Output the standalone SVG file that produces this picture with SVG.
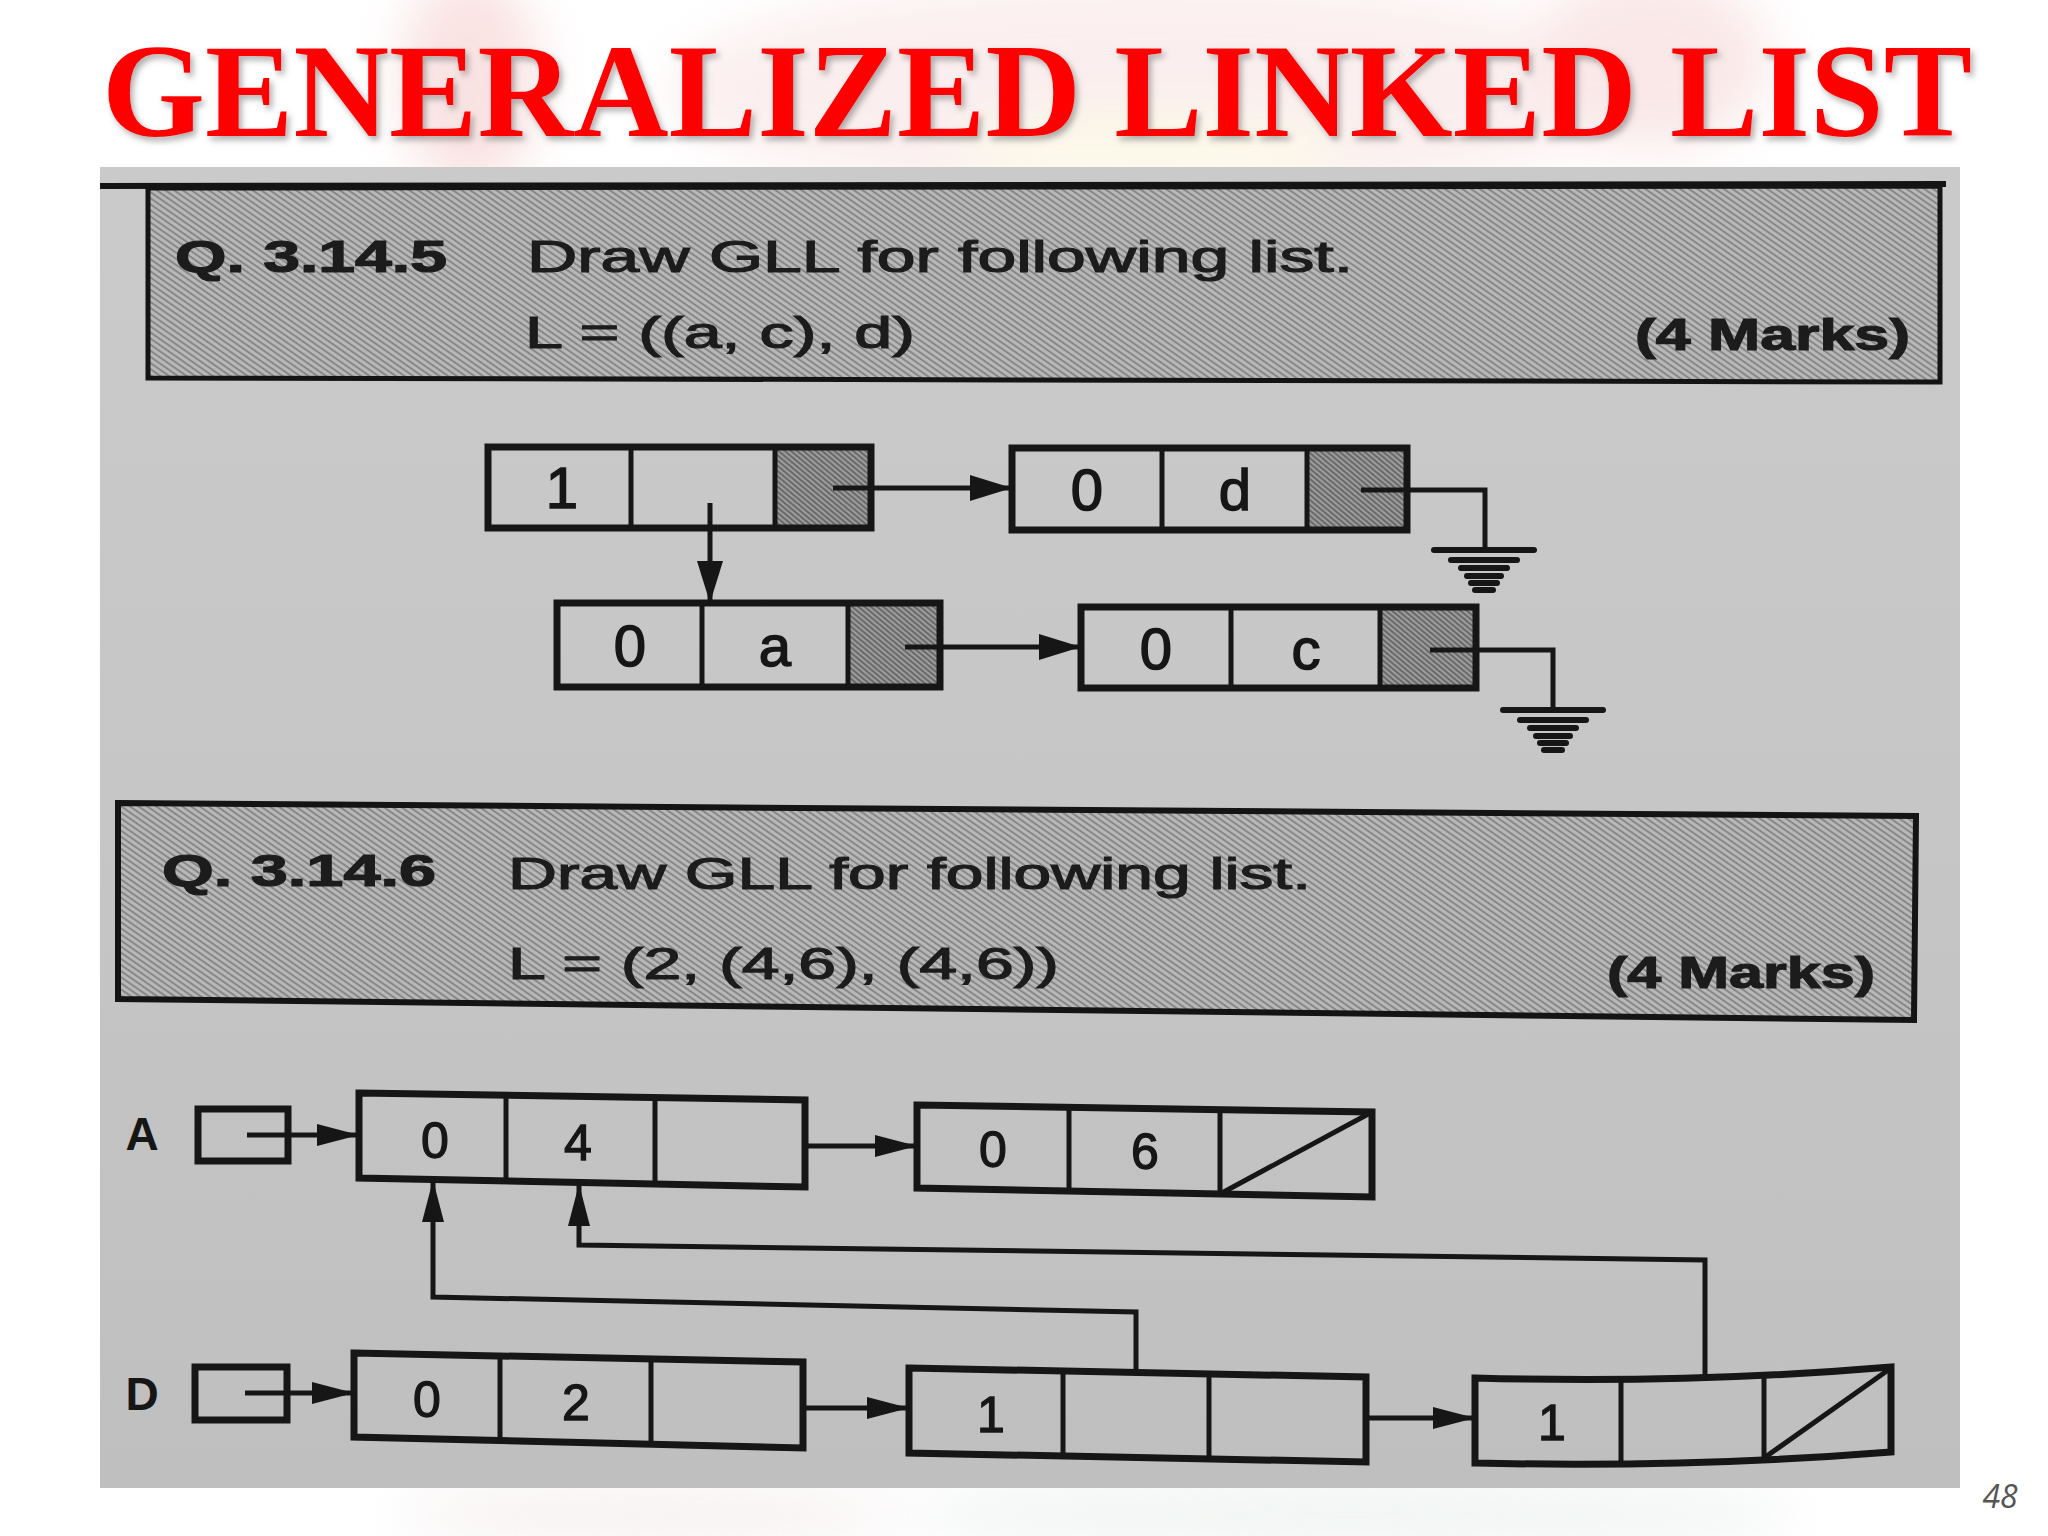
<svg xmlns="http://www.w3.org/2000/svg" width="2048" height="1536" viewBox="0 0 2048 1536">
<defs>
<style>
.q{font-family:"Liberation Sans",Arial,sans-serif;font-size:44px;fill:#1c1c1c;stroke:#1c1c1c;stroke-width:1.2}
.qb{font-weight:bold}
.cell{fill:none;stroke:#161616;stroke-width:7;stroke-linejoin:miter}
.div{stroke:#161616;stroke-width:5}
.ln{fill:none;stroke:#161616;stroke-width:5}
.gnd line{stroke:#161616;stroke-width:6;stroke-linecap:round}
.v{font-family:"Liberation Sans",Arial,sans-serif;font-size:58px;fill:#161616;stroke:#161616;stroke-width:1.5;text-anchor:middle}
.v2{font-family:"Liberation Sans",Arial,sans-serif;font-size:50px;fill:#161616;stroke:#161616;stroke-width:1.3;text-anchor:middle}
.lab{font-family:"Liberation Sans",Arial,sans-serif;font-size:46px;font-weight:bold;fill:#161616;text-anchor:middle}
</style>
<pattern id="hatch" width="5" height="5" patternUnits="userSpaceOnUse" patternTransform="rotate(35)">
<rect width="5" height="5" fill="#b8b8b8"/><rect width="5" height="2" fill="#888888"/>
</pattern>
<pattern id="shade" width="4" height="4" patternUnits="userSpaceOnUse" patternTransform="rotate(40)">
<rect width="4" height="4" fill="#9c9c9c"/><rect width="4" height="2" fill="#6a6a6a"/>
</pattern>
<linearGradient id="bg" x1="0" y1="0" x2="0" y2="1">
<stop offset="0" stop-color="#cacaca"/><stop offset="0.5" stop-color="#c6c6c6"/><stop offset="1" stop-color="#bfbfbf"/>
</linearGradient>
<marker id="ah" viewBox="0 0 42 26" refX="42" refY="13" markerWidth="42" markerHeight="26" markerUnits="userSpaceOnUse" orient="auto">
<path d="M0,0 L42,13 L0,26 Z" fill="#161616"/>
</marker>
<marker id="as" viewBox="0 0 42 22" refX="42" refY="11" markerWidth="42" markerHeight="22" markerUnits="userSpaceOnUse" orient="auto">
<path d="M0,0 L42,11 L0,22 Z" fill="#161616"/>
</marker>
<filter id="sh" x="-10%" y="-50%" width="120%" height="200%">
<feDropShadow dx="3" dy="4" stdDeviation="3" flood-color="#777" flood-opacity="0.6"/>
</filter>
<filter id="blur" x="-50%" y="-50%" width="200%" height="200%"><feGaussianBlur stdDeviation="25"/></filter>
</defs>

<rect width="2048" height="1536" fill="#ffffff"/>
<g id="watermark" filter="url(#blur)" opacity="0.4">
<ellipse cx="470" cy="80" rx="70" ry="110" fill="#f2b8b8"/>
<ellipse cx="1150" cy="90" rx="480" ry="110" fill="#f6d6d6"/>
<ellipse cx="1150" cy="150" rx="200" ry="40" fill="#f7efc8"/>
<ellipse cx="1650" cy="60" rx="120" ry="90" fill="#f3c6c6"/>
<ellipse cx="650" cy="1515" rx="250" ry="40" fill="#efe3e3"/>
<ellipse cx="1350" cy="1515" rx="450" ry="40" fill="#dfe8e2"/>
</g>

<text x="102" y="136" font-family="'Liberation Serif','Times New Roman',serif" font-weight="bold" font-size="134" fill="#ff0000" textLength="1870" lengthAdjust="spacingAndGlyphs" filter="url(#sh)">GENERALIZED LINKED LIST</text>

<rect id="photo" x="100" y="167" width="1860" height="1321" fill="url(#bg)"/>

<g id="q1">
<line x1="100" y1="186" x2="1946" y2="184" stroke="#141414" stroke-width="6"/>
<polygon points="148,188 1940,186 1940,382 148,378" fill="url(#hatch)" stroke="#141414" stroke-width="5"/>
<text class="q qb" x="175" y="272" textLength="272" lengthAdjust="spacingAndGlyphs">Q. 3.14.5</text>
<text class="q" x="527" y="272" textLength="826" lengthAdjust="spacingAndGlyphs">Draw GLL for following list.</text>
<text class="q" x="525" y="348" textLength="390" lengthAdjust="spacingAndGlyphs">L = ((a, c), d)</text>
<text class="q qb" x="1635" y="350" textLength="275" lengthAdjust="spacingAndGlyphs">(4 Marks)</text>
</g>

<g id="n1">
<rect x="775" y="447" width="96" height="81" fill="url(#shade)"/>
<rect class="cell" x="488" y="447" width="383" height="81"/>
<line class="div" x1="631" y1="447" x2="631" y2="528"/>
<line class="div" x1="775" y1="447" x2="775" y2="528"/>
<text class="v" x="562" y="508">1</text>
</g>
<g id="n2">
<rect x="1307" y="448" width="100" height="82" fill="url(#shade)"/>
<rect class="cell" x="1012" y="448" width="395" height="82"/>
<line class="div" x1="1162" y1="448" x2="1162" y2="530"/>
<line class="div" x1="1307" y1="448" x2="1307" y2="530"/>
<text class="v" x="1087" y="510">0</text>
<text class="v" x="1235" y="510">d</text>
</g>
<g id="n3">
<rect x="848" y="603" width="92" height="84" fill="url(#shade)"/>
<rect class="cell" x="557" y="603" width="383" height="84"/>
<line class="div" x1="702" y1="603" x2="702" y2="687"/>
<line class="div" x1="848" y1="603" x2="848" y2="687"/>
<text class="v" x="630" y="666">0</text>
<text class="v" x="775" y="666">a</text>
</g>
<g id="n4">
<rect x="1380" y="607" width="96" height="81" fill="url(#shade)"/>
<rect class="cell" x="1081" y="607" width="395" height="81"/>
<line class="div" x1="1231" y1="607" x2="1231" y2="688"/>
<line class="div" x1="1380" y1="607" x2="1380" y2="688"/>
<text class="v" x="1156" y="669">0</text>
<text class="v" x="1306" y="669">c</text>
</g>
<g id="gnd1" class="gnd">
<line x1="1434" y1="550" x2="1534" y2="550"/>
<line x1="1451" y1="560" x2="1517" y2="560"/>
<line x1="1461" y1="568" x2="1507" y2="568"/>
<line x1="1467" y1="576" x2="1501" y2="576"/>
<line x1="1471" y1="583" x2="1497" y2="583"/>
<line x1="1475" y1="590" x2="1493" y2="590"/>
</g>
<g id="gnd2" class="gnd">
<line x1="1503" y1="710" x2="1603" y2="710"/>
<line x1="1520" y1="720" x2="1586" y2="720"/>
<line x1="1530" y1="728" x2="1576" y2="728"/>
<line x1="1536" y1="736" x2="1570" y2="736"/>
<line x1="1540" y1="743" x2="1566" y2="743"/>
<line x1="1544" y1="750" x2="1562" y2="750"/>
</g>

<g id="q2">
<polygon points="118,803 1916,816 1914,1020 118,999" fill="url(#hatch)" stroke="#141414" stroke-width="6"/>
<text class="q qb" x="162" y="886" textLength="274" lengthAdjust="spacingAndGlyphs">Q. 3.14.6</text>
<text class="q" x="508" y="889" textLength="803" lengthAdjust="spacingAndGlyphs">Draw GLL for following list.</text>
<text class="q" x="508" y="979" textLength="551" lengthAdjust="spacingAndGlyphs">L = (2, (4,6), (4,6))</text>
<text class="q qb" x="1607" y="988" textLength="268" lengthAdjust="spacingAndGlyphs">(4 Marks)</text>
</g>

<g id="ptrA">
<text class="lab" x="142" y="1150">A</text>
<rect class="cell" x="198" y="1109" width="90" height="52" stroke-width="6"/>
</g>
<g id="a1">
<polygon class="cell" points="359,1093 805,1100 805,1187 359,1178"/>
<line class="div" x1="506" y1="1095" x2="506" y2="1181"/>
<line class="div" x1="655" y1="1098" x2="655" y2="1184"/>
<text class="v2" x="435" y="1158">0</text>
<text class="v2" x="578" y="1160">4</text>
</g>
<g id="a2">
<polygon class="cell" points="917,1105 1372,1112 1372,1197 917,1188"/>
<line class="div" x1="1069" y1="1107" x2="1069" y2="1191"/>
<line class="div" x1="1220" y1="1110" x2="1220" y2="1194"/>
<line class="div" x1="1220" y1="1194" x2="1372" y2="1112"/>
<text class="v2" x="993" y="1167">0</text>
<text class="v2" x="1145" y="1169">6</text>
</g>

<g id="ptrD">
<text class="lab" x="142" y="1410">D</text>
<rect class="cell" x="195" y="1367" width="92" height="53" stroke-width="6"/>
</g>
<g id="d1">
<polygon class="cell" points="354,1353 803,1362 803,1448 354,1437"/>
<line class="div" x1="500" y1="1356" x2="500" y2="1440"/>
<line class="div" x1="651" y1="1359" x2="651" y2="1444"/>
<text class="v2" x="427" y="1417">0</text>
<text class="v2" x="576" y="1420">2</text>
</g>
<g id="d2">
<polygon class="cell" points="909,1368 1366,1377 1366,1462 909,1453"/>
<line class="div" x1="1063" y1="1371" x2="1063" y2="1456"/>
<line class="div" x1="1209" y1="1374" x2="1209" y2="1459"/>
<text class="v2" x="991" y="1432">1</text>
</g>
<g id="d3">
<path class="cell" d="M1475,1378 Q1690,1384 1891,1367 L1891,1452 Q1690,1468 1475,1463 Z"/>
<line class="div" x1="1621" y1="1380" x2="1621" y2="1462"/>
<line class="div" x1="1764" y1="1377" x2="1764" y2="1458"/>
<line class="div" x1="1764" y1="1458" x2="1891" y2="1368"/>
<text class="v2" x="1552" y="1440">1</text>
</g>

<g id="connectors">
<path class="ln" d="M833,488 H1012" marker-end="url(#ah)"/>
<path class="ln" d="M710,503 V603" marker-end="url(#ah)"/>
<path class="ln" d="M905,647 H1081" marker-end="url(#ah)"/>
<path class="ln" d="M1361,490 H1485 V550"/>
<path class="ln" d="M1430,650 H1553 V710"/>
<path class="ln" d="M247,1135 H359" marker-end="url(#as)"/>
<path class="ln" d="M805,1146 H917" marker-end="url(#as)"/>
<path class="ln" d="M1136,1372 V1312 L433,1297 V1180" marker-end="url(#as)"/>
<path class="ln" d="M1705,1377 V1260 L579,1245 V1184" marker-end="url(#as)"/>
<path class="ln" d="M245,1393 H354" marker-end="url(#as)"/>
<path class="ln" d="M803,1408 H909" marker-end="url(#as)"/>
<path class="ln" d="M1366,1418 H1475" marker-end="url(#as)"/>
</g>

<text x="2000" y="1508" font-family="'Open Sans','Liberation Sans',sans-serif" font-style="italic" font-size="32" fill="#555555" text-anchor="middle">48</text>
</svg>
